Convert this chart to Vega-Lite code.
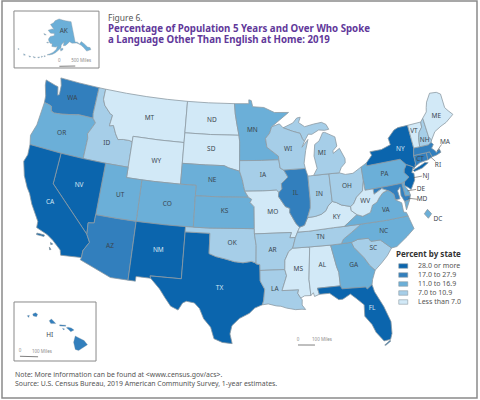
{
  "$schema": "https://vega.github.io/schema/vega-lite/v6.json",
  "width": 475,
  "height": 397,
  "padding": {"left": 2, "top": 1, "right": 3, "bottom": 2},
  "autosize": "none",
  "background": "white",
  "view": {"stroke": "#8a8a8a", "strokeWidth": 1.5},
  "title": {
    "text": "Figure 6.",
    "subtitle": ["Percentage of Population 5 Years and Over Who Spoke", "a Language Other Than English at Home: 2019"],
    "frame": "group",
    "anchor": "start",
    "dx": 106,
    "offset": -44,
    "font": "Noto Sans",
    "fontSize": 8.5,
    "fontWeight": "normal",
    "color": "#555555",
    "subtitleFont": "Noto Sans",
    "subtitleFontSize": 9.7,
    "subtitleFontWeight": "bold",
    "subtitleColor": "#61389a",
    "subtitleLineHeight": 11,
    "subtitlePadding": 2
  },
  "projection": {"type": "albers", "rotate": [96, 0, 0], "center": [0, 37.5], "parallels": [29.5, 45.5], "scale": 595, "translate": [241, 222.5]},
  "datasets": {
    "states": [
      {"type":"Feature","properties":{"s":"WA","cat":"17.0 to 27.9"},"geometry":{"type":"Polygon","coordinates":[[[-124.7,48.4],[-123.2,48.15],[-122.8,48.1],[-122.5,47.3],[-122.3,47.4],[-122.4,48.3],[-122.75,49],[-120,49],[-117.03,49],[-117.04,46.42],[-116.92,45.99],[-118.98,46],[-119.3,45.93],[-121.2,45.65],[-122.3,45.55],[-122.76,45.65],[-122.9,46.1],[-123.4,46.2],[-124,46.27],[-124.1,46.9],[-124.6,47.9],[-124.7,48.4]]]}},
      {"type":"Feature","properties":{"s":"OR","cat":"11.0 to 16.9"},"geometry":{"type":"Polygon","coordinates":[[[-124,46.27],[-123.4,46.2],[-122.9,46.1],[-122.76,45.65],[-122.3,45.55],[-121.2,45.65],[-119.3,45.93],[-118.98,46],[-116.92,45.99],[-116.46,45.6],[-116.85,44.95],[-117.2,44.4],[-117.03,44],[-117.03,42],[-120,42],[-124.21,42],[-124.5,42.85],[-124.1,44],[-124,46.27]]]}},
      {"type":"Feature","properties":{"s":"ID","cat":"7.0 to 10.9"},"geometry":{"type":"Polygon","coordinates":[[[-117.03,49],[-116.05,49],[-116.05,48],[-115.7,47.45],[-114.7,46.75],[-114.35,46.65],[-114.5,45.6],[-113.95,45.7],[-113.45,44.95],[-113,44.45],[-112.3,44.55],[-111.5,44.55],[-111.05,44.48],[-111.05,42],[-114.04,42],[-117.03,42],[-117.03,44],[-117.2,44.4],[-116.85,44.95],[-116.46,45.6],[-116.92,45.99],[-117.04,46.42],[-117.03,49]]]}},
      {"type":"Feature","properties":{"s":"MT","cat":"Less than 7.0"},"geometry":{"type":"Polygon","coordinates":[[[-116.05,49],[-113,49],[-110,49],[-107,49],[-104.05,49],[-104.05,45.94],[-104.05,45],[-107.5,45],[-111.05,45],[-111.05,44.48],[-111.5,44.55],[-112.3,44.55],[-113,44.45],[-113.45,44.95],[-113.95,45.7],[-114.5,45.6],[-114.35,46.65],[-114.7,46.75],[-115.7,47.45],[-116.05,48],[-116.05,49]]]}},
      {"type":"Feature","properties":{"s":"WY","cat":"Less than 7.0"},"geometry":{"type":"Polygon","coordinates":[[[-111.05,45],[-107.5,45],[-104.05,45],[-104.05,43],[-104.05,41],[-107.5,41],[-109.05,41],[-111.05,41],[-111.05,42],[-111.05,44.48],[-111.05,45]]]}},
      {"type":"Feature","properties":{"s":"ND","cat":"Less than 7.0"},"geometry":{"type":"Polygon","coordinates":[[[-104.05,49],[-101,49],[-97.23,49],[-97.1,48],[-96.85,47],[-96.56,45.94],[-100.5,45.94],[-104.05,45.94],[-104.05,49]]]}},
      {"type":"Feature","properties":{"s":"SD","cat":"Less than 7.0"},"geometry":{"type":"Polygon","coordinates":[[[-104.05,45.94],[-100.5,45.94],[-96.56,45.94],[-96.45,45.3],[-96.45,43.5],[-96.45,42.49],[-97.9,42.8],[-98.5,43],[-101,43],[-104.05,43],[-104.05,45],[-104.05,45.94]]]}},
      {"type":"Feature","properties":{"s":"NE","cat":"11.0 to 16.9"},"geometry":{"type":"Polygon","coordinates":[[[-104.05,43],[-101,43],[-98.5,43],[-97.9,42.8],[-96.45,42.49],[-96.1,41.7],[-95.9,41],[-95.77,40.58],[-95.31,40],[-98.7,40],[-102.05,40],[-102.05,41],[-104.05,41],[-104.05,43]]]}},
      {"type":"Feature","properties":{"s":"CO","cat":"11.0 to 16.9"},"geometry":{"type":"Polygon","coordinates":[[[-109.05,41],[-107.5,41],[-104.05,41],[-102.05,41],[-102.05,40],[-102.05,37],[-103,37],[-105.5,37],[-109.05,37],[-109.05,41]]]}},
      {"type":"Feature","properties":{"s":"UT","cat":"11.0 to 16.9"},"geometry":{"type":"Polygon","coordinates":[[[-114.04,42],[-111.05,42],[-111.05,41],[-109.05,41],[-109.05,37],[-111.5,37],[-114.04,37],[-114.04,42]]]}},
      {"type":"Feature","properties":{"s":"NV","cat":"28.0 or more"},"geometry":{"type":"Polygon","coordinates":[[[-120,42],[-117.03,42],[-114.04,42],[-114.04,37],[-114.04,36.2],[-114.75,36.1],[-114.63,35],[-120,39],[-120,42]]]}},
      {"type":"Feature","properties":{"s":"CA","cat":"28.0 or more"},"geometry":{"type":"MultiPolygon","coordinates":[[[[-124.21,42],[-120,42],[-120,39],[-114.63,35],[-114.14,34.3],[-114.72,33.4],[-114.72,32.72],[-117.12,32.53],[-117.3,33],[-118.4,33.75],[-119.2,34.15],[-120.6,34.55],[-120.65,35.15],[-121.9,36.6],[-122.5,37.5],[-123,38],[-123.75,39],[-124.35,40.3],[-124.1,41],[-124.21,42]]],[[[-120.4,34.05],[-119.5,34.05],[-119.5,33.9],[-120.4,33.9],[-120.4,34.05]]],[[[-118.6,33.5],[-118.3,33.4],[-118.5,33.3],[-118.6,33.5]]],[[[-118.6,33.05],[-118.35,32.85],[-118.5,32.8],[-118.6,33.05]]]]}},
      {"type":"Feature","properties":{"s":"AZ","cat":"17.0 to 27.9"},"geometry":{"type":"Polygon","coordinates":[[[-114.04,37],[-111.5,37],[-109.05,37],[-109.05,31.33],[-111.07,31.33],[-114.81,32.5],[-114.72,32.72],[-114.72,33.4],[-114.14,34.3],[-114.63,35],[-114.75,36.1],[-114.04,36.2],[-114.04,37]]]}},
      {"type":"Feature","properties":{"s":"NM","cat":"28.0 or more"},"geometry":{"type":"Polygon","coordinates":[[[-109.05,37],[-105.5,37],[-103,37],[-103,36.5],[-103.04,32],[-106.62,32],[-106.53,31.78],[-108.21,31.78],[-108.21,31.33],[-109.05,31.33],[-109.05,37]]]}},
      {"type":"Feature","properties":{"s":"TX","cat":"28.0 or more"},"geometry":{"type":"Polygon","coordinates":[[[-103,36.5],[-100,36.5],[-100,34.56],[-99.2,34.3],[-98.1,34.1],[-97,33.85],[-96,33.75],[-95,33.88],[-94.04,33.55],[-94.04,33],[-94.04,31.99],[-93.55,31.2],[-93.7,30.1],[-93.85,29.7],[-94.7,29.4],[-95.3,28.9],[-96.4,28.4],[-97.2,27.7],[-97.4,26.9],[-97.15,25.96],[-98.2,26.06],[-99.1,26.4],[-99.5,27.5],[-100.3,28.3],[-100.8,29.25],[-101.4,29.77],[-102.3,29.88],[-102.7,29.7],[-103.15,28.98],[-104,29.3],[-104.7,30.05],[-105.4,30.85],[-106.53,31.78],[-106.62,32],[-103.04,32],[-103,36.5]]]}},
      {"type":"Feature","properties":{"s":"OK","cat":"7.0 to 10.9"},"geometry":{"type":"Polygon","coordinates":[[[-103,37],[-102.05,37],[-100,37],[-94.62,37],[-94.62,36.5],[-94.43,35.4],[-94.48,33.64],[-94.04,33.55],[-95,33.88],[-96,33.75],[-97,33.85],[-98.1,34.1],[-99.2,34.3],[-100,34.56],[-100,36.5],[-103,36.5],[-103,37]]]}},
      {"type":"Feature","properties":{"s":"KS","cat":"11.0 to 16.9"},"geometry":{"type":"Polygon","coordinates":[[[-102.05,40],[-98.7,40],[-95.31,40],[-94.9,39.8],[-95.1,39.5],[-94.61,39.1],[-94.62,37],[-100,37],[-102.05,37],[-102.05,40]]]}},
      {"type":"Feature","properties":{"s":"MN","cat":"11.0 to 16.9"},"geometry":{"type":"Polygon","coordinates":[[[-97.23,49],[-95.15,49],[-95.15,49.38],[-94.8,49.3],[-94.6,48.7],[-93,48.6],[-91.5,48.07],[-89.5,48],[-92,46.7],[-92.3,46.1],[-92.9,45.6],[-92.75,44.75],[-91.25,43.85],[-91.22,43.5],[-93.5,43.5],[-96.45,43.5],[-96.45,45.3],[-96.56,45.94],[-96.85,47],[-97.1,48],[-97.23,49]]]}},
      {"type":"Feature","properties":{"s":"IA","cat":"7.0 to 10.9"},"geometry":{"type":"Polygon","coordinates":[[[-96.45,43.5],[-93.5,43.5],[-91.22,43.5],[-91.1,42.7],[-90.64,42.5],[-90.15,41.8],[-91.05,41.2],[-91,40.7],[-91.42,40.38],[-91.73,40.61],[-93.5,40.58],[-95.77,40.58],[-95.9,41],[-96.1,41.7],[-96.45,42.49],[-96.45,43.5]]]}},
      {"type":"Feature","properties":{"s":"MO","cat":"Less than 7.0"},"geometry":{"type":"Polygon","coordinates":[[[-95.77,40.58],[-93.5,40.58],[-91.73,40.61],[-91.42,40.38],[-91.5,40],[-90.7,39],[-90.15,38.8],[-90.2,38.4],[-89.5,37.3],[-89.1,36.95],[-89.4,36.5],[-89.7,36],[-90.37,36],[-90.15,36.5],[-94.62,36.5],[-94.62,37],[-94.61,39.1],[-95.1,39.5],[-94.9,39.8],[-95.31,40],[-95.77,40.58]]]}},
      {"type":"Feature","properties":{"s":"AR","cat":"7.0 to 10.9"},"geometry":{"type":"Polygon","coordinates":[[[-94.62,36.5],[-90.15,36.5],[-90.37,36],[-89.7,36],[-90.1,35],[-90.6,34.7],[-91.1,33.9],[-91.17,33],[-94.04,33],[-94.04,33.55],[-94.48,33.64],[-94.43,35.4],[-94.62,36.5]]]}},
      {"type":"Feature","properties":{"s":"LA","cat":"7.0 to 10.9"},"geometry":{"type":"Polygon","coordinates":[[[-94.04,33],[-91.17,33],[-91,32.4],[-91.6,31],[-89.73,31],[-89.85,30.65],[-89.55,30.18],[-89.4,30],[-89.45,29.5],[-89.1,29.05],[-89.5,29.1],[-90.2,29.1],[-91.2,29.3],[-91.8,29.5],[-92.3,29.55],[-93.2,29.77],[-93.85,29.7],[-93.7,30.1],[-93.55,31.2],[-94.04,31.99],[-94.04,33]]]}},
      {"type":"Feature","properties":{"s":"MS","cat":"Less than 7.0"},"geometry":{"type":"Polygon","coordinates":[[[-90.1,35],[-88.2,35],[-88.1,34.9],[-88.47,31.9],[-88.4,30.35],[-89.1,30.37],[-89.55,30.18],[-89.85,30.65],[-89.73,31],[-91.6,31],[-91,32.4],[-91.17,33],[-91.1,33.9],[-90.6,34.7],[-90.1,35]]]}},
      {"type":"Feature","properties":{"s":"AL","cat":"Less than 7.0"},"geometry":{"type":"Polygon","coordinates":[[[-88.2,35],[-85.6,34.98],[-85.18,32.87],[-85,32.3],[-85,31],[-87.6,31],[-87.45,30.4],[-88,30.23],[-88.1,30.6],[-88.4,30.35],[-88.47,31.9],[-88.1,34.9],[-88.2,35]]]}},
      {"type":"Feature","properties":{"s":"GA","cat":"11.0 to 16.9"},"geometry":{"type":"Polygon","coordinates":[[[-85.6,34.98],[-84.32,34.99],[-83.1,35],[-82.9,34.5],[-81.9,33.4],[-81.4,32.6],[-80.85,32.03],[-81.3,31.2],[-81.45,30.72],[-82.05,30.36],[-82.2,30.57],[-84.86,30.7],[-85,31],[-85,32.3],[-85.18,32.87],[-85.6,34.98]]]}},
      {"type":"Feature","properties":{"s":"FL","cat":"28.0 or more"},"geometry":{"type":"MultiPolygon","coordinates":[[[[-87.6,31],[-85,31],[-84.86,30.7],[-82.2,30.57],[-82.05,30.36],[-81.45,30.72],[-81.3,30],[-80.55,28.45],[-80.05,26.9],[-80.15,25.75],[-80.4,25.2],[-81.1,25.15],[-81.8,26.1],[-82.1,26.9],[-82.75,27.8],[-82.65,28.9],[-83.4,29.6],[-84,30.1],[-84.9,29.7],[-85.35,29.7],[-86.3,30.4],[-87.45,30.4],[-87.6,31]]],[[[-80.5,25.1],[-80.4,25.05],[-81,24.7],[-81.1,24.75],[-80.5,25.1]]]]}},
      {"type":"Feature","properties":{"s":"SC","cat":"7.0 to 10.9"},"geometry":{"type":"Polygon","coordinates":[[[-83.1,35],[-82.3,35.2],[-81.05,35.15],[-80.8,34.82],[-79.68,34.8],[-78.55,33.86],[-79.2,33.2],[-80,32.6],[-80.85,32.03],[-81.4,32.6],[-81.9,33.4],[-82.9,34.5],[-83.1,35]]]}},
      {"type":"Feature","properties":{"s":"NC","cat":"11.0 to 16.9"},"geometry":{"type":"Polygon","coordinates":[[[-81.68,36.59],[-78.5,36.54],[-75.87,36.55],[-75.5,35.25],[-76.5,34.65],[-77.9,33.9],[-78.55,33.86],[-79.68,34.8],[-80.8,34.82],[-81.05,35.15],[-82.3,35.2],[-83.1,35],[-84.32,34.99],[-84,35.4],[-82.9,35.95],[-81.68,36.59]]]}},
      {"type":"Feature","properties":{"s":"TN","cat":"7.0 to 10.9"},"geometry":{"type":"Polygon","coordinates":[[[-89.4,36.5],[-88.07,36.5],[-85,36.6],[-83.68,36.6],[-81.68,36.59],[-82.9,35.95],[-84,35.4],[-84.32,34.99],[-85.6,34.98],[-88.2,35],[-90.1,35],[-89.7,36],[-89.4,36.5]]]}},
      {"type":"Feature","properties":{"s":"KY","cat":"Less than 7.0"},"geometry":{"type":"Polygon","coordinates":[[[-89.1,36.95],[-88.5,37.1],[-88.05,37.8],[-87.1,37.85],[-86.3,38],[-85.7,38.3],[-85.4,38.7],[-84.8,39.1],[-84.3,38.95],[-83.7,38.65],[-82.6,38.4],[-82.6,38],[-81.97,37.54],[-83.68,36.6],[-85,36.6],[-88.07,36.5],[-89.4,36.5],[-89.1,36.95]]]}},
      {"type":"Feature","properties":{"s":"IL","cat":"17.0 to 27.9"},"geometry":{"type":"Polygon","coordinates":[[[-90.64,42.5],[-87.8,42.5],[-87.55,41.75],[-87.53,39.35],[-87.6,38.7],[-87.95,38],[-88.05,37.8],[-88.5,37.1],[-89.1,36.95],[-89.5,37.3],[-90.2,38.4],[-90.15,38.8],[-90.7,39],[-91.5,40],[-91.42,40.38],[-91,40.7],[-91.05,41.2],[-90.15,41.8],[-90.64,42.5]]]}},
      {"type":"Feature","properties":{"s":"IN","cat":"7.0 to 10.9"},"geometry":{"type":"Polygon","coordinates":[[[-87.55,41.75],[-87.2,41.75],[-86.8,41.76],[-84.8,41.76],[-84.8,39.1],[-85.4,38.7],[-85.7,38.3],[-86.3,38],[-87.1,37.85],[-88.05,37.8],[-87.95,38],[-87.6,38.7],[-87.53,39.35],[-87.55,41.75]]]}},
      {"type":"Feature","properties":{"s":"OH","cat":"7.0 to 10.9"},"geometry":{"type":"Polygon","coordinates":[[[-84.8,41.76],[-83.45,41.73],[-82.7,41.5],[-81.7,41.5],[-80.52,41.98],[-80.52,40.64],[-80.85,39.7],[-81.7,39.2],[-82.2,38.6],[-82.6,38.4],[-83.7,38.65],[-84.3,38.95],[-84.8,39.1],[-84.8,41.76]]]}},
      {"type":"Feature","properties":{"s":"MI","cat":"7.0 to 10.9"},"geometry":{"type":"MultiPolygon","coordinates":[[[[-85,45.75],[-84.7,45.75],[-83.4,45.2],[-83.3,44.3],[-83.9,43.9],[-83.9,43.65],[-83,44.05],[-82.45,43],[-82.5,42.6],[-83.1,42.2],[-83.45,41.73],[-84.8,41.76],[-86.8,41.76],[-86.25,42.4],[-86.5,43.6],[-86.25,44.7],[-85.6,45],[-85,45.75]]],[[[-90.4,46.55],[-89,46.95],[-88.4,47.4],[-87.9,47.45],[-88.2,46.95],[-87.4,46.5],[-86.1,46.67],[-85,46.75],[-84.4,46.5],[-84.1,46],[-84.7,45.95],[-85.5,46.05],[-86.5,45.7],[-87,45.75],[-87.6,45.1],[-87.85,45.35],[-88.1,45.9],[-89.1,46.15],[-90.4,46.55]]]]}},
      {"type":"Feature","properties":{"s":"WI","cat":"7.0 to 10.9"},"geometry":{"type":"Polygon","coordinates":[[[-92,46.7],[-90.9,46.95],[-90.4,46.55],[-89.1,46.15],[-88.1,45.9],[-87.85,45.35],[-87.6,45.1],[-88,44.55],[-87.1,45.25],[-87.55,44.2],[-87.9,43],[-87.8,42.5],[-90.64,42.5],[-91.1,42.7],[-91.22,43.5],[-91.25,43.85],[-92.75,44.75],[-92.9,45.6],[-92.3,46.1],[-92,46.7]]]}},
      {"type":"Feature","properties":{"s":"PA","cat":"11.0 to 16.9"},"geometry":{"type":"Polygon","coordinates":[[[-80.52,41.98],[-79.76,42.27],[-79.76,42],[-75.35,42],[-74.7,41.36],[-75.1,40.95],[-75.2,40.65],[-74.72,40.15],[-75.4,39.8],[-75.79,39.72],[-77.5,39.72],[-79.48,39.72],[-80.52,39.72],[-80.52,40.64],[-80.52,41.98]]]}},
      {"type":"Feature","properties":{"s":"NY","cat":"28.0 or more"},"geometry":{"type":"MultiPolygon","coordinates":[[[[-79.76,42.27],[-78.9,42.9],[-79.05,43.27],[-77.5,43.27],[-76.2,43.55],[-76.3,44.2],[-75.3,44.85],[-74.7,45],[-73.35,45],[-73.3,43.6],[-73.27,42.75],[-73.5,42.05],[-73.5,41.3],[-73.65,41],[-73.9,40.8],[-73.9,41],[-74.7,41.36],[-75.35,42],[-79.76,42],[-79.76,42.27]]],[[[-74,40.7],[-73,40.95],[-72.3,41.15],[-71.9,41.05],[-72.8,40.7],[-73.9,40.55],[-74,40.7]]]]}},
      {"type":"Feature","properties":{"s":"NJ","cat":"28.0 or more"},"geometry":{"type":"Polygon","coordinates":[[[-74.7,41.36],[-73.9,41],[-74.25,40.5],[-74,40.4],[-74.1,39.75],[-74.8,38.95],[-75.1,39.2],[-75.55,39.5],[-75.4,39.8],[-74.72,40.15],[-75.2,40.65],[-75.1,40.95],[-74.7,41.36]]]}},
      {"type":"Feature","properties":{"s":"DE","cat":"11.0 to 16.9"},"geometry":{"type":"Polygon","coordinates":[[[-75.79,39.72],[-75.4,39.8],[-75.55,39.5],[-75.1,38.8],[-75.05,38.45],[-75.7,38.46],[-75.79,39.72]]]}},
      {"type":"Feature","properties":{"s":"MD","cat":"17.0 to 27.9"},"geometry":{"type":"Polygon","coordinates":[[[-79.48,39.72],[-77.5,39.72],[-75.79,39.72],[-75.7,38.46],[-75.05,38.45],[-75.25,38.03],[-75.9,37.95],[-76.2,38.6],[-76.1,39.4],[-76.5,39.1],[-76.4,38.3],[-77,38.3],[-77.05,38.85],[-77.5,39.2],[-77.75,39.32],[-78.4,39.6],[-79.48,39.2],[-79.48,39.72]]]}},
      {"type":"Feature","properties":{"s":"VA","cat":"11.0 to 16.9"},"geometry":{"type":"MultiPolygon","coordinates":[[[[-83.68,36.6],[-81.97,37.54],[-81.3,37.3],[-80.3,37.55],[-79.9,38.2],[-79.3,38.4],[-78.9,38.8],[-78.35,39.2],[-77.75,39.32],[-77.5,39.2],[-77.05,38.85],[-77,38.3],[-76.3,37.9],[-76.3,37],[-75.98,36.9],[-75.87,36.55],[-78.5,36.54],[-81.68,36.59],[-83.68,36.6]]],[[[-75.9,37.95],[-75.25,38.03],[-75.9,37.15],[-75.9,37.95]]]]}},
      {"type":"Feature","properties":{"s":"WV","cat":"Less than 7.0"},"geometry":{"type":"Polygon","coordinates":[[[-80.52,40.64],[-80.52,39.72],[-79.48,39.72],[-79.48,39.2],[-78.4,39.6],[-77.75,39.32],[-78.35,39.2],[-78.9,38.8],[-79.3,38.4],[-79.9,38.2],[-80.3,37.55],[-81.3,37.3],[-81.97,37.54],[-82.6,38],[-82.6,38.4],[-82.2,38.6],[-81.7,39.2],[-80.85,39.7],[-80.52,40.64]]]}},
      {"type":"Feature","properties":{"s":"CT","cat":"17.0 to 27.9"},"geometry":{"type":"Polygon","coordinates":[[[-73.5,42.05],[-71.8,42.02],[-71.85,41.32],[-72.9,41.25],[-73.65,41],[-73.5,41.3],[-73.5,42.05]]]}},
      {"type":"Feature","properties":{"s":"RI","cat":"17.0 to 27.9"},"geometry":{"type":"Polygon","coordinates":[[[-71.8,42.02],[-71.38,42.02],[-71.2,41.5],[-71.85,41.32],[-71.8,42.02]]]}},
      {"type":"Feature","properties":{"s":"MA","cat":"17.0 to 27.9"},"geometry":{"type":"Polygon","coordinates":[[[-73.27,42.75],[-72.46,42.73],[-71.3,42.7],[-70.85,42.87],[-70.65,42.6],[-71,42.3],[-70.6,41.95],[-70.55,41.8],[-70.05,42.05],[-69.95,41.7],[-70.6,41.55],[-71.2,41.5],[-71.38,42.02],[-71.8,42.02],[-73.5,42.05],[-73.27,42.75]]]}},
      {"type":"Feature","properties":{"s":"VT","cat":"Less than 7.0"},"geometry":{"type":"Polygon","coordinates":[[[-73.35,45],[-71.5,45],[-71.55,44.5],[-72.05,44.1],[-72.3,43.6],[-72.46,42.73],[-73.27,42.75],[-73.3,43.6],[-73.35,45]]]}},
      {"type":"Feature","properties":{"s":"NH","cat":"7.0 to 10.9"},"geometry":{"type":"Polygon","coordinates":[[[-71.5,45],[-71.1,45.3],[-70.98,43.4],[-70.7,43.07],[-70.85,42.87],[-71.3,42.7],[-72.46,42.73],[-72.3,43.6],[-72.05,44.1],[-71.55,44.5],[-71.5,45]]]}},
      {"type":"Feature","properties":{"s":"ME","cat":"Less than 7.0"},"geometry":{"type":"Polygon","coordinates":[[[-71.1,45.3],[-70.4,45.8],[-70.25,46.2],[-70,46.7],[-69.25,47.45],[-68.3,47.35],[-67.8,47.07],[-67.8,45.7],[-67.45,45.3],[-67,44.85],[-68.2,44.3],[-69,44.1],[-70,43.75],[-70.7,43.07],[-70.98,43.4],[-71.1,45.3]]]}},
      {"type":"Feature","properties":{"s":"DC","cat":"11.0 to 16.9"},"geometry":{"type":"Polygon","coordinates":[[[-73.9,36.4],[-73.4,36.75],[-73.05,36.25],[-73.55,35.9],[-73.9,36.4]]]}}
    ],
    "alaska": [
      {"type":"Feature","properties":{"s":"AK","cat":"11.0 to 16.9"},"geometry":{"type":"MultiPolygon","coordinates":[[[[-168.1,65.6],[-164,66.5],[-161.8,66.3],[-163.8,67.2],[-166.8,68.35],[-163,69.5],[-162,70.3],[-156.6,71.35],[-152,70.85],[-148,70.4],[-141,69.65],[-141,60.3],[-139,60],[-137.5,58.9],[-135.5,59.8],[-133.5,58.4],[-131.8,56.6],[-130,56],[-130,55],[-131,55],[-133.5,55],[-135,57],[-136.5,58.2],[-138,59],[-140,59.7],[-144,60],[-146,60.8],[-148,60],[-150,59.3],[-151.9,59.2],[-151.3,60.7],[-150,61.2],[-152.5,60.3],[-153.8,59.4],[-154,58.3],[-156.5,57],[-158.5,56],[-160.7,55.2],[-163.2,54.7],[-164.9,54.6],[-163,55.2],[-160.5,56],[-158,57.5],[-157.2,58.8],[-159,58.5],[-162,58.65],[-162,59.9],[-164,60],[-165.5,61],[-166,61.7],[-164.7,63],[-161,63.6],[-161,64.6],[-165,64.5],[-168.1,65.6]]],[[[-154.5,57.9],[-152.4,58.1],[-152.4,57.4],[-154.2,56.8],[-154.5,57.9]]],[[[-171.7,63.7],[-169,63.4],[-170.5,63.1],[-171.7,63.7]]],[[[-166.9,60.2],[-165.6,60.3],[-165.6,59.9],[-167,59.95],[-166.9,60.2]]],[[[-167,54],[-166,54],[-166.6,53.4],[-167,54]]],[[[-169,53.5],[-168,53.5],[-168.6,53],[-169,53.5]]],[[[-171.5,52.7],[-170,52.9],[-170.8,52.4],[-171.5,52.7]]],[[[-174.8,52.4],[-173,52.3],[-174,51.9],[-174.8,52.4]]],[[[-178,52],[-176.5,52],[-177,51.6],[-178,52]]],[[[178,52],[179.5,51.8],[178.5,51.4],[178,52]]],[[[172.5,53],[173.5,53],[173,52.6],[172.5,53]]]]}}
    ],
    "hawaii": [
      {"type":"Feature","properties":{"s":"HI","cat":"17.0 to 27.9"},"geometry":{"type":"MultiPolygon","coordinates":[[[[-155.9,20.25],[-155.6,20.1],[-155.1,19.85],[-154.8,19.5],[-155.6,19],[-155.9,19.1],[-156.05,19.7],[-155.9,20.25]]],[[[-156.7,20.95],[-156.55,21],[-156.25,20.93],[-156,20.75],[-156.3,20.6],[-156.5,20.8],[-156.7,20.95]]],[[[-157.3,21.2],[-156.75,21.17],[-156.75,21.08],[-157.3,21.1],[-157.3,21.2]]],[[[-157.05,20.9],[-156.85,20.85],[-156.95,20.75],[-157.05,20.9]]],[[[-158.25,21.55],[-158.05,21.7],[-157.8,21.45],[-157.65,21.3],[-158.1,21.3],[-158.25,21.55]]],[[[-159.75,22.1],[-159.5,22.23],[-159.3,22.1],[-159.4,21.88],[-159.7,21.95],[-159.75,22.1]]],[[[-160.25,21.95],[-160.05,22],[-160.1,21.8],[-160.25,21.95]]]]}}
    ],
    "boxes": [
      {"type":"Feature","properties":{"box":"Alaska"},"geometry":{"type":"LineString","coordinates":[[-132.73,53.73],[-119.8,56.42],[-117.69,50.88],[-129.62,48.5],[-132.73,53.73]]}},
      {"type":"Feature","properties":{"box":"Hawaii"},"geometry":{"type":"LineString","coordinates":[[-120.9,27.08],[-112.2,28.78],[-111.17,23.12],[-119.36,21.5],[-120.9,27.08]]}}
    ],
    "bars": [
      {"type":"Feature","properties":{"bar":"500 Miles"},"geometry":{"type":"LineString","coordinates":[[-123.44,50.05],[-121.19,50.5]]}},
      {"type":"Feature","properties":{"bar":"100 Miles HI"},"geometry":{"type":"LineString","coordinates":[[-118.89,22.09],[-117.08,22.45]]}},
      {"type":"Feature","properties":{"bar":"100 Miles"},"geometry":{"type":"LineString","coordinates":[[-90.18,25.67],[-88.39,25.55]]}}
    ],
    "leaders": [
      {"type":"Feature","properties":{"s":"NJ"},"geometry":{"type":"LineString","coordinates":[[-74.2,40],[-73.1,39.95]]}},
      {"type":"Feature","properties":{"s":"MA"},"geometry":{"type":"LineString","coordinates":[[-70.4,41.9],[-69.6,42.4]]}},
      {"type":"Feature","properties":{"s":"RI"},"geometry":{"type":"LineString","coordinates":[[-71.4,41.5],[-70.95,41]]}},
      {"type":"Feature","properties":{"s":"DE"},"geometry":{"type":"LineString","coordinates":[[-75.3,38.9],[-74.2,38.85]]}},
      {"type":"Feature","properties":{"s":"MD"},"geometry":{"type":"LineString","coordinates":[[-75.4,38.2],[-74.3,37.9]]}}
    ],
    "labels": [
      {"s":"WA","lon":-120.4,"lat":47.4},{"s":"OR","lon":-120.6,"lat":43.9},{"s":"CA","lon":-119.8,"lat":37.2},{"s":"NV","lon":-116.8,"lat":39.45},
      {"s":"ID","lon":-114.4,"lat":43.95},{"s":"MT","lon":-109.2,"lat":47},{"s":"WY","lon":-107.5,"lat":43},{"s":"ND","lon":-100.4,"lat":47.3},
      {"s":"SD","lon":-100.3,"lat":44.55},{"s":"NE","lon":-100,"lat":41.6},{"s":"UT","lon":-111.5,"lat":39.3},{"s":"CO","lon":-105.5,"lat":39},
      {"s":"KS","lon":-98.3,"lat":38.65},{"s":"OK","lon":-97.3,"lat":35.6},{"s":"NM","lon":-106,"lat":34.55},{"s":"TX","lon":-98.65,"lat":31.3},
      {"s":"AZ","lon":-111.7,"lat":34.3},{"s":"MN","lon":-94.7,"lat":46.4},{"s":"WI","lon":-89.9,"lat":44.5},{"s":"MI","lon":-85.4,"lat":43.85},
      {"s":"IA","lon":-93.4,"lat":42.1},{"s":"IL","lon":-89.3,"lat":40.2},{"s":"IN","lon":-86.3,"lat":39.95},{"s":"OH","lon":-82.7,"lat":40.35},
      {"s":"MO","lon":-92.3,"lat":38.55},{"s":"KY","lon":-84.5,"lat":37.55},{"s":"WV","lon":-80.7,"lat":38.75},{"s":"VA","lon":-78.4,"lat":37.5},
      {"s":"NC","lon":-79.1,"lat":35.6},{"s":"TN","lon":-86.7,"lat":35.85},{"s":"AR","lon":-92.5,"lat":34.95},{"s":"LA","lon":-92.4,"lat":31.2},
      {"s":"MS","lon":-89.6,"lat":33},{"s":"AL","lon":-86.8,"lat":33.15},{"s":"GA","lon":-83.2,"lat":32.8},{"s":"SC","lon":-80.65,"lat":34.15},
      {"s":"FL","lon":-81.85,"lat":28.45},{"s":"PA","lon":-77.7,"lat":40.95},{"s":"NY","lon":-75,"lat":42.95},{"s":"VT","lon":-72.7,"lat":44.3},
      {"s":"NH","lon":-71.6,"lat":43.2},{"s":"ME","lon":-69.2,"lat":45.2},{"s":"CT","lon":-72.8,"lat":41.6},{"s":"NJ","lon":-72.6,"lat":39.87},
      {"s":"MA","lon":-69.08,"lat":42.53},{"s":"RI","lon":-70.76,"lat":40.6},{"s":"DE","lon":-73.59,"lat":38.78},{"s":"MD","lon":-73.76,"lat":37.83},
      {"s":"DC","lon":-72.46,"lat":35.6}
    ],
    "scaleLabels": [
      {"t":"0","lon":-123.66,"lat":50.52},{"t":"500 Miles","lon":-120.54,"lat":51.14},
      {"t":"0","lon":-119,"lat":22.57},{"t":"100 Miles","lon":-116.8,"lat":23},
      {"t":"0","lon":-90.14,"lat":26.15},{"t":"100 Miles","lon":-87.6,"lat":25.98}
    ],
    "notes": [
      {"t":"Note: More information can be found at <www.census.gov/acs>.","lon":-118.92,"lat":20.18},
      {"t":"Source: U.S. Census Bureau, 2019 American Community Survey, 1-year estimates.","lon":-118.71,"lat":19.31}
    ]
  },
  "layer": [
    {
      "data": {"name": "states"},
      "mark": {"type": "geoshape", "stroke": "#8d9aa3", "strokeWidth": 0.8},
      "encoding": {
        "color": {
          "field": "properties.cat",
          "type": "ordinal",
          "scale": {
            "domain": ["28.0 or more", "17.0 to 27.9", "11.0 to 16.9", "7.0 to 10.9", "Less than 7.0"],
            "range": ["#0b65ad", "#327fbd", "#6bafd8", "#a6cee8", "#d2e9f7"]
          },
          "legend": {
            "title": "Percent by state",
            "orient": "none",
            "legendX": 394,
            "legendY": 250,
            "symbolType": "M-0.5,-0.5H1.5V0.5H-0.5Z",
            "symbolSize": 81,
            "symbolStrokeColor": "#8d9aa3",
            "symbolStrokeWidth": 0.6,
            "symbolOpacity": 1,
            "labelOffset": 12,
            "rowPadding": 0,
            "labelFont": "Noto Sans",
            "labelFontSize": 7,
            "labelColor": "#555555",
            "titleFont": "Noto Sans",
            "titleFontSize": 8,
            "titleFontWeight": "bold",
            "titleColor": "#333333",
            "titlePadding": 2
          }
        }
      }
    },
    {
      "data": {"name": "alaska"},
      "projection": {"type": "albers", "rotate": [154, 0, 0], "center": [0, 60], "parallels": [55, 65], "scale": 127, "translate": [59, 43]},
      "mark": {"type": "geoshape", "stroke": "#8d9aa3", "strokeWidth": 0.4},
      "encoding": {"color": {"field": "properties.cat", "type": "ordinal"}}
    },
    {
      "data": {"name": "hawaii"},
      "projection": {"type": "albers", "rotate": [157, 0, 0], "center": [0, 20.5], "parallels": [8, 18], "scale": 675, "translate": [61, 332]},
      "mark": {"type": "geoshape", "stroke": "#8d9aa3", "strokeWidth": 0.3},
      "encoding": {"color": {"field": "properties.cat", "type": "ordinal"}}
    },
    {
      "data": {"values": [{"s": "AK", "lon": -151, "lat": 65.8}]},
      "projection": {"type": "albers", "rotate": [154, 0, 0], "center": [0, 60], "parallels": [55, 65], "scale": 127, "translate": [59, 43]},
      "mark": {"type": "text", "font": "Noto Sans", "fontSize": 6.5, "color": "#3a4650"},
      "encoding": {
        "longitude": {"field": "lon", "type": "quantitative"},
        "latitude": {"field": "lat", "type": "quantitative"},
        "text": {"field": "s"}
      }
    },
    {
      "data": {"values": [{"s": "HI", "lon": -158.2, "lat": 20.3}]},
      "projection": {"type": "albers", "rotate": [157, 0, 0], "center": [0, 20.5], "parallels": [8, 18], "scale": 675, "translate": [61, 332]},
      "mark": {"type": "text", "font": "Noto Sans", "fontSize": 6.5, "color": "#3a4650"},
      "encoding": {
        "longitude": {"field": "lon", "type": "quantitative"},
        "latitude": {"field": "lat", "type": "quantitative"},
        "text": {"field": "s"}
      }
    },
    {
      "data": {"name": "boxes"},
      "mark": {"type": "geoshape", "filled": false, "stroke": "#8a8a8a", "strokeWidth": 1}
    },
    {
      "data": {"name": "bars"},
      "mark": {"type": "geoshape", "filled": false, "stroke": "#808080", "strokeWidth": 1}
    },
    {
      "data": {"name": "leaders"},
      "mark": {"type": "geoshape", "filled": false, "stroke": "#555555", "strokeWidth": 0.6}
    },
    {
      "data": {"name": "labels"},
      "mark": {"type": "text", "font": "Noto Sans", "fontSize": 6.5},
      "encoding": {
        "longitude": {"field": "lon", "type": "quantitative"},
        "latitude": {"field": "lat", "type": "quantitative"},
        "text": {"field": "s"},
        "color": {
          "condition": {"test": "indexof(['CA','NV','NM','TX','FL','NY'], datum.s) >= 0", "value": "#d6e6f3"},
          "value": "#3a4650"
        }
      }
    },
    {
      "data": {"name": "scaleLabels"},
      "mark": {"type": "text", "font": "Noto Sans", "fontSize": 4.5, "color": "#8a8a8a"},
      "encoding": {
        "longitude": {"field": "lon", "type": "quantitative"},
        "latitude": {"field": "lat", "type": "quantitative"},
        "text": {"field": "t"}
      }
    },
    {
      "data": {"name": "notes"},
      "mark": {"type": "text", "font": "Noto Sans", "fontSize": 6.9, "align": "left", "color": "#555555"},
      "encoding": {
        "longitude": {"field": "lon", "type": "quantitative"},
        "latitude": {"field": "lat", "type": "quantitative"},
        "text": {"field": "t"}
      }
    }
  ]
}
